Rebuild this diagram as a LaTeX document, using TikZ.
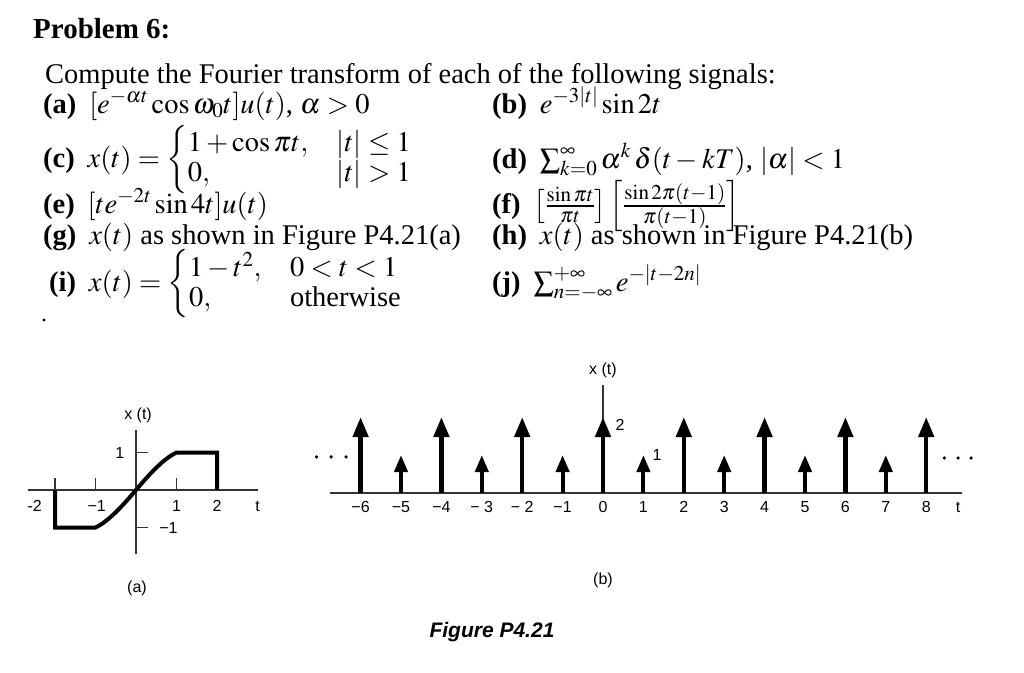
\documentclass[tikz,border=0pt]{standalone}
\usepackage{amsmath}
\usepackage{mathptmx}
\usepackage{fontspec}
\setmainfont{Liberation Serif}
\setsansfont{Liberation Sans}
\usetikzlibrary{arrows.meta}
\tikzset{
  txt/.style={anchor=base west, inner sep=0pt, font=\fontsize{28.5}{34}\selectfont},
  txtc/.style={anchor=west, inner sep=0pt, font=\fontsize{28.5}{34}\selectfont},
  lbl/.style={inner sep=0pt, font=\sffamily\fontsize{16}{19}\selectfont},
  axisline/.style={line width=1.6pt, black!80},
  tickline/.style={line width=1.3pt, black!80},
  sig/.style={line width=4pt, line join=miter},
  tallimp/.style={line width=4.5pt, -{Triangle[length=20pt,width=15pt]}},
  shortimp/.style={line width=4pt, -{Triangle[length=17pt,width=13pt]}},
  dotmark/.style={fill=black, draw=none}
}
\newcommand{\lab}[1]{\textbf{(#1)}\hspace{0.45em}}
\newcommand{\mycases}[1]{\left\{\renewcommand{\arraystretch}{0.88}\begin{array}{@{}l@{\quad}l@{}}#1\end{array}\right.}
\begin{document}
\begin{tikzpicture}[x=1pt,y=-1pt]
\useasboundingbox (0,0) rectangle (1024,672);
\fill[white] (0,0) rectangle (1024,672);

% ---------- text ----------
\node[txt, font=\fontsize{29}{35}\selectfont\bfseries] (title) at (33,38) {Problem 6:};
\node[txt] (intro) at (45,83) {Compute the Fourier transform of each of the following signals:};

\node[txt] (pa) at (43,113) {\lab{a}$[e^{-\alpha t}\cos\omega_0 t]u(t)$, $\alpha > 0$};
\node[txt] (pb) at (492,113) {\lab{b}$e^{-3|t|}\sin 2t$};
\node[txtc] (pc) at (43,160) {\lab{c}$x(t) = \mycases{1+\cos\pi t, & |t|\le 1\\ 0, & |t|>1}$};
\node[txt] (pd) at (492,168) {\lab{d}$\sum_{k=0}^{\infty}\alpha^k\,\delta(t-kT)$, $|\alpha|<1$};
\node[txt] (pe) at (43,213) {\lab{e}$[te^{-2t}\sin 4t]u(t)$};
\node[txtc] (pf) at (492,206) {\lab{f}$\left[\frac{\sin\pi t}{\pi t}\right]\left[\frac{\sin 2\pi(t-1)}{\pi(t-1)}\right]$};
\node[txt] (pg) at (43,244) {\lab{g}$x(t)$ as shown in Figure P4.21(a)};
\node[txt] (ph) at (492,244) {\lab{h}$x(t)$ as shown in Figure P4.21(b)};
\node[txtc] (pi) at (49,284) {\lab{i}$x(t) = \mycases{1-t^2, & 0<t<1\\ 0, & \text{otherwise}}$};
\node[txt] (pj) at (492,291) {\lab{j}$\sum_{n=-\infty}^{+\infty} e^{-|t-2n|}$};
\fill[dotmark] (44,320) circle (1.6);

% ---------- figure (a) ----------
\begin{scope}[shift={(136,490)}, x=40.5pt, y=37.5pt]
  \draw[axisline] (-2.67,0) -- (3.0,0);
  \draw[axisline] (0,-1.71) -- (0,1.6);
  \foreach \t in {-2,-1,1} \draw[tickline] (\t,0) -- (\t,0.32);
  \draw[tickline] (0,1) -- (0.3,1);
  \draw[tickline] (0,-1) -- (0.3,-1);
  \draw[sig] (-2,0) -- (-2,-1) -- (-1,-1)
     .. controls (-0.7,-0.85) and (-0.35,-0.45) .. (0,0)
     .. controls (0.35,0.45) and (0.7,0.85) .. (1,1)
     -- (2,1) -- (2,0);
  \node[lbl] (axt) at (0.05,2.0) {x (t)};
  \node[lbl] (ay1) at (-0.4,1.0) {1};
  \node[lbl] (aym1) at (0.8,-1.0) {−1};
  \node[lbl] (ax2) at (-2.5,-0.43) {-2};
  \node[lbl] (ax1n) at (-0.97,-0.43) {−1};
  \node[lbl] (ax1) at (1,-0.43) {1};
  \node[lbl] (ax2p) at (2,-0.43) {2};
  \node[lbl] (axtt) at (3.0,-0.43) {t};
\end{scope}
\node[lbl] (capa) at (137,588) {(a)};

% ---------- figure (b) ----------
\begin{scope}[shift={(603,493)}, x=40.4pt, y=38pt]
  \draw[axisline] (-6.76,0) -- (8.89,0);
  \draw[axisline, line width=1.4pt] (0,0) -- (0,2.84);
  \foreach \t in {-6,-4,...,8} \draw[tallimp] (\t,0) -- (\t,2);
  \foreach \t in {-5,-3,...,7} \draw[shortimp] (\t,0) -- (\t,1);
  \foreach \t/\s in {-6/−6,-5/−5,-4/−4,-3/− 3,-2/− 2,-1/−1,0/0,1/1,2/2,3/3,4/4,5/5,6/6,7/7,8/8}
     \node[lbl] (bt\t) at (\t,-0.37) {\s};
  \node[lbl] (btt) at (8.79,-0.37) {t};
  \node[lbl] (bxt) at (0,3.24) {x (t)};
  \node[lbl] (bv2) at (0.42,1.79) {2};
  \node[lbl] (bv1) at (1.34,1.0) {1};
  \foreach \d in {-7.09,-6.73,-6.36} \fill[dotmark] (\d,0.95) circle (1.8pt);
  \foreach \d in {8.45,8.79,9.11} \fill[dotmark] (\d,0.92) circle (1.8pt);
\end{scope}
\node[lbl] (capb) at (603,580) {(b)};
\node[inner sep=0pt, font=\sffamily\bfseries\itshape\fontsize{21}{25}\selectfont] (figcap) at (492,632) {Figure P4.21};
\end{tikzpicture}
\end{document}
